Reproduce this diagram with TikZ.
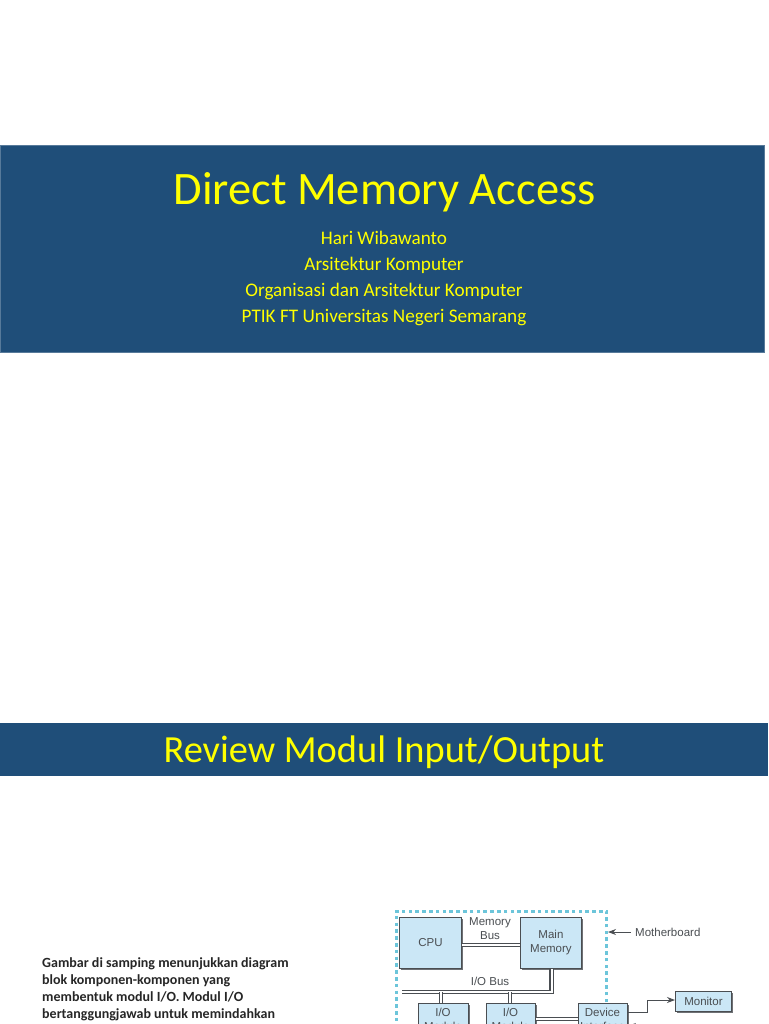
\documentclass[tikz,border=0pt]{standalone}
\usepackage{fontspec}
\setmainfont{Carlito}
\newfontfamily\arialish{Liberation Sans}
\usetikzlibrary{arrows.meta}
\definecolor{band}{HTML}{1F4E79}
\definecolor{ylw}{HTML}{FFFF00}
\definecolor{boxfill}{HTML}{CBE7F6}
\definecolor{dotcol}{HTML}{6CC5DA}
\definecolor{inkg}{HTML}{4A4E52}
\tikzset{
  bandbox/.style={fill=band,draw=band!75!white,line width=.6pt,inner sep=0pt,anchor=north west},
  ttl/.style={text=ylw,inner sep=0pt,anchor=base},
  blockbox/.style={fill=boxfill,draw=inkg,line width=.9pt,inner sep=0pt,anchor=north west,align=center,text=inkg,font=\arialish\fontsize{11.5}{14}\selectfont},
  lbl/.style={text=inkg,inner sep=0pt,align=center,font=\arialish\fontsize{11.5}{14}\selectfont},
  busline/.style={draw=inkg,double=white,double distance=2pt,line width=1.1pt},
  arrowline/.style={draw=inkg,line width=.9pt,-{Stealth[length=8pt,width=6pt]}},
  para/.style={inner sep=0pt,anchor=north west,align=left,text=black!85,font=\fontsize{14}{17.3}\selectfont\bfseries},
}
\newcommand{\shadowbox}[4]{\fill[inkg!80] (#1+2,#2+2) rectangle (#3+2,#4+2);}
\begin{document}
\begin{tikzpicture}[x=1pt,y=-1pt]
\useasboundingbox (0,0) rectangle (768,1024);
\clip (0,0) rectangle (768,1024);
\fill[white] (0,0) rectangle (768,1024);
\node[bandbox,minimum width=764pt,minimum height=207pt] (b1) at (0,145) {};
\node[ttl,font=\fontsize{46.5}{50}\selectfont] (t1) at (384.5,205) {Direct Memory Access};
\node[ttl,font=\fontsize{19.2}{22}\selectfont] (s1) at (384,244) {Hari Wibawanto};
\node[ttl,font=\fontsize{19.2}{22}\selectfont] (s2) at (384,270) {Arsitektur Komputer};
\node[ttl,font=\fontsize{19.2}{22}\selectfont] (s3) at (384,296.5) {Organisasi dan Arsitektur Komputer};
\node[ttl,font=\fontsize{19.2}{22}\selectfont] (s4) at (384,322.5) {PTIK FT Universitas Negeri Semarang};
\node[bandbox,minimum width=768pt,minimum height=53pt,draw=none] (b2) at (0,723) {};
\node[ttl,font=\fontsize{38.4}{42}\selectfont] (t2) at (384,762) {Review Modul Input/Output};
\node[para] (body) at (42,957) {Gambar di samping menunjukkan diagram\\blok komponen-komponen yang\\membentuk modul I/O. Modul I/O\\bertanggungjawab untuk memindahkan};
% motherboard outline
\node[draw=dotcol,line width=3pt,dash pattern=on 3.6pt off 3.2pt,inner sep=0pt,minimum width=210pt,minimum height=160pt,anchor=north west] (mb) at (395,909.5) {};
% shadows
\shadowbox{399}{917}{461}{968}
\shadowbox{520}{917}{581}{968}
\shadowbox{418}{1003}{468}{1040}
\shadowbox{486}{1003}{535}{1040}
\shadowbox{578}{1003}{627}{1040}
\shadowbox{675}{991}{731}{1011}
\node[inner sep=0pt,minimum size=0pt] (busL) at (402,992) {};
\coordinate (busR) at (551.5,992);
\node[blockbox,minimum width=62pt,minimum height=51pt] (cpu) at (399,917) {CPU};
\node[blockbox,minimum width=61pt,minimum height=51pt] (mem) at (520,917) {Main\\Memory};
\node[blockbox,minimum width=50pt,minimum height=37pt] (io1) at (418,1003) {};
\node[blockbox,minimum width=49pt,minimum height=37pt] (io2) at (486,1003) {};
\node[blockbox,minimum width=49pt,minimum height=37pt] (dev) at (578,1003) {};
\node[blockbox,minimum width=56pt,minimum height=20pt] (mon) at (675,991) {Monitor};
\node[lbl] (io1t) at (443,1019.5) {I/O\\Module};
\node[lbl] (io2t) at (510.5,1019.5) {I/O\\Module};
\node[lbl] (devt) at (602.5,1019.5) {Device\\Interface};
\draw[busline] (cpu.east |- 0,945) -- (mem.west |- 0,945);
\draw[busline] (mem.south -| busR) -- (busR) -- (busL);
\draw[busline] (io1.north -| 441,0) -- (441,992);
\draw[busline] (io2.north -| 510,0) -- (510,992);
\draw[busline] (io2.east |- 0,1019) -- (dev.west |- 0,1019);
\node[lbl] (mbus) at (490,929) {Memory\\Bus};
\node[lbl] (iobus) at (490,981.5) {I/O Bus};
\node[lbl,anchor=west] (mbl) at (635,932) {Motherboard};
\draw[arrowline] ([xshift=-4pt]mbl.west) -- (mb.east |- mbl.west);
\draw[arrowline] (dev.east |- 0,1012) -- (647,1012) -- (647,1000) -- (mon.west |- 0,1000);
\coordinate (devin) at (650,1026);
\draw[arrowline] (devin) -- (dev.east |- devin);
\end{tikzpicture}
\end{document}
